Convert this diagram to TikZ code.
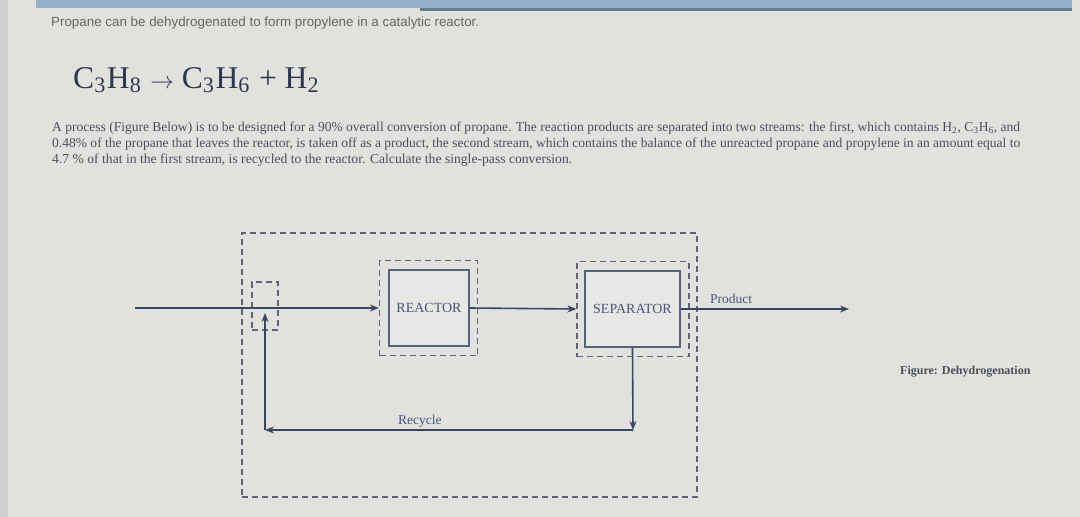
\documentclass[tikz,border=0pt]{standalone}
\usepackage{fontspec}
\setmainfont{Liberation Serif}
\newfontfamily\titlefont{Liberation Sans}
\usetikzlibrary{arrows.meta}
\definecolor{bgc}{HTML}{E1E2DE}
\definecolor{barc}{HTML}{93B1CC}
\definecolor{linec}{HTML}{3A4562}
\definecolor{dashc}{HTML}{5E6474}
\definecolor{txtc}{HTML}{4A4E5A}
\definecolor{ttlc}{HTML}{656565}
\definecolor{lblc}{HTML}{4B5478}
\tikzset{
  flow/.style={draw=linec, line width=1.6pt},
  arr/.style={flow, -{Stealth[length=9pt,width=7pt]}},
  dbox/.style={draw=dashc, line width=1.2pt, dash pattern=on 6pt off 4pt, rectangle, inner sep=0pt},
  unit/.style={draw=linec!85!white, line width=1.4pt, rectangle, inner sep=0pt, fill=bgc!80!white, font=\fontsize{14}{16}\selectfont, text=lblc},
  lbl/.style={font=\fontsize{13.5}{16}\selectfont, text=lblc, inner sep=0pt},
  para/.style={anchor=base west, inner sep=0pt, text=txtc},
}
\begin{document}
\begin{tikzpicture}[x=1pt,y=-1pt]
\useasboundingbox (0,0) rectangle (1080,517);
\fill[bgc] (0,0) rectangle (1080,517);
\fill[black!18] (0,0) rectangle (8,517);
\fill[barc] (36,0) rectangle (1072,8);
\fill[barc!70!black] (420,8) rectangle (1072,11);

\node[para, text=ttlc] (title) at (51,26) {\resizebox{428pt}{!}{\titlefont Propane can be dehydrogenated to form propylene in a catalytic reactor.}};

\node[para, text=linec!80!black] (eq) at (73,88) {\resizebox{247pt}{!}{C\textsubscript{3}H\textsubscript{8} \scalebox{0.75}{$\rightarrow$} C\textsubscript{3}H\textsubscript{6} + H\textsubscript{2}}};

\node[para] (p1) at (52,131) {\resizebox{968pt}{!}{A process (Figure Below) is to be designed for a 90\% overall conversion of propane. The reaction products are separated into two streams: the first, which contains H\textsubscript{2}, C\textsubscript{3}H\textsubscript{6}, and}};
\node[para] (p2) at (52,147) {\resizebox{968pt}{!}{0.48\% of the propane that leaves the reactor, is taken off as a product, the second stream, which contains the balance of the unreacted propane and propylene in an amount equal to}};
\node[para] (p3) at (52,163) {\resizebox{520pt}{!}{4.7 \% of that in the first stream, is recycled to the reactor. Calculate the single-pass conversion.}};

% boxes
\node[dbox, minimum width=455pt, minimum height=264pt] (outer) at (469.5,365) {};
\node[dbox, minimum width=26pt, minimum height=48pt] (mix) at (265,306) {};
\node[dbox, minimum width=98pt, minimum height=95pt] (rdash) at (428.5,308) {};
\node[unit, minimum width=80pt, minimum height=76pt] (reactor) at (429,308) {REACTOR};
\node[dbox, minimum width=112pt, minimum height=95pt] (sdash) at (633,309) {};
\node[unit, minimum width=95pt, minimum height=76pt] (sep) at (632.5,309) {SEPARATOR};

% streams
\coordinate (feed) at (135,308);
\coordinate (prod) at (849,309);
\coordinate (rc1) at (633,430);
\coordinate (rc2) at (265,430);
\coordinate (rc3) at (265,313);

\draw[arr] (feed) -- (rdash.west |- feed);
\draw[arr] (reactor.east) -- (sdash.west);
\draw[arr] (sep.east) -- (prod);
\draw[arr] (sep.south) -- (rc1);
\draw[arr] (rc1) -- (rc2);
\draw[arr] (rc2) -- (rc3);

\node[lbl, anchor=base west] (plabel) at (710,303) {Product};
\node[lbl, anchor=base west] (rlabel) at (398,424) {Recycle};
\node[anchor=base west, inner sep=0pt, text=txtc, font=\fontsize{12}{14}\selectfont\bfseries] (fig) at (900,374) {Figure: Dehydrogenation};
\end{tikzpicture}
\end{document}
